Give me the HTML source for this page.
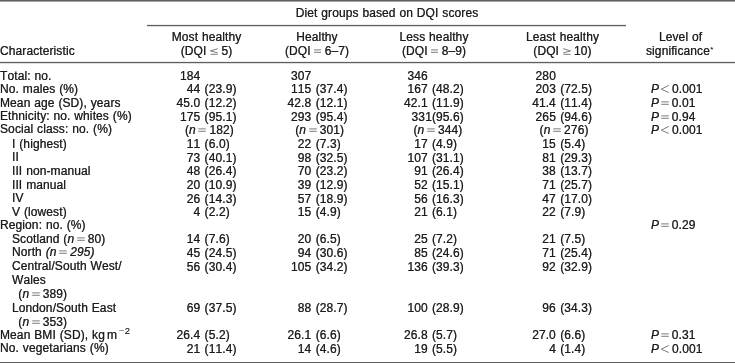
<!DOCTYPE html>
<html><head><meta charset="utf-8"><style>
html,body{margin:0;padding:0;background:#fff;}
body{width:735px;height:363px;position:relative;overflow:hidden;font-family:"Liberation Sans",sans-serif;color:#1c1c1c;}
.t{position:absolute;font-size:12px;line-height:14px;white-space:nowrap;word-spacing:0.4px;letter-spacing:0.1px;font-kerning:none;}
.m{display:inline-block;vertical-align:baseline;margin:0 3.5px;}
.m.lt{margin:0 3.3px 0 1.8px;}
.m.eqn{margin:0 3.0px 0 2.6px;}
.m.eqp{margin:0 3.1px 0 1.7px;}
.th{display:inline-block;width:2px;}
.sup{font-size:9.5px;vertical-align:0;position:relative;top:-5px;line-height:0;margin-left:1.8px;letter-spacing:0.3px;-webkit-text-stroke:0;}
.mi{color:#8c8c8c;}
.ast{font-size:8px;vertical-align:0;position:relative;top:-2.5px;line-height:0;margin-left:0.3px;-webkit-text-stroke:0;}
.rule{position:absolute;background:#5e5e5e;}
#w{position:absolute;left:0;top:0;width:735px;height:363px;will-change:transform;}
.t{-webkit-text-stroke:0.2px #1c1c1c;text-shadow:0 0 0.6px rgba(28,28,28,0.45);}
</style></head>
<body><div id="w">

<div class="rule" style="left:0;top:0;width:735px;height:1px;"></div>
<div class="rule" style="left:0;top:1px;width:735px;height:1px;background:#a8a8a8"></div>
<div class="rule" style="left:147px;top:24px;width:479px;height:1px;background:#ececec"></div>
<div class="rule" style="left:147px;top:25px;width:479px;height:1px;"></div>
<div class="rule" style="left:147px;top:26px;width:479px;height:1px;background:#dedede"></div>
<div class="rule" style="left:0;top:61px;width:735px;height:1px;background:#ececec"></div>
<div class="rule" style="left:0;top:62px;width:735px;height:1px;"></div>
<div class="rule" style="left:0;top:63px;width:735px;height:1px;background:#dedede"></div>
<div class="rule" style="left:0;top:362px;width:735px;height:1px;"></div>

<div class="t " style="left:237.0px;width:300px;top:5.6px;text-align:center;">Diet groups based on DQI scores</div>
<div class="t " style="left:0px;top:43.8px;">Characteristic</div>
<div class="t " style="left:56.5px;width:300px;top:30.3px;text-align:center;">Most healthy</div>
<div class="t " style="left:56.5px;width:300px;top:43.6px;text-align:center;">(DQI<svg class="m" width="8" height="7" viewBox="0 0 8 7"><path d="M7.8 0.7L0.4 2.9L7.8 4.9M0.6 6.3H7.6" fill="none" stroke="#7c7c7c" stroke-width="1"/></svg>5)</div>
<div class="t " style="left:167.0px;width:300px;top:30.3px;text-align:center;">Healthy</div>
<div class="t " style="left:167.0px;width:300px;top:43.6px;text-align:center;">(DQI<svg class="m" width="7" height="7" viewBox="0 0 7 7"><path d="M0 1.9H7M0 4.3H7" stroke="#7c7c7c" stroke-width="1"/></svg>6&ndash;7)</div>
<div class="t " style="left:284.0px;width:300px;top:30.3px;text-align:center;">Less healthy</div>
<div class="t " style="left:284.0px;width:300px;top:43.6px;text-align:center;">(DQI<svg class="m" width="7" height="7" viewBox="0 0 7 7"><path d="M0 1.9H7M0 4.3H7" stroke="#7c7c7c" stroke-width="1"/></svg>8&ndash;9)</div>
<div class="t " style="left:412.5px;width:300px;top:30.3px;text-align:center;">Least healthy</div>
<div class="t " style="left:412.5px;width:300px;top:43.6px;text-align:center;">(DQI<svg class="m" width="8" height="7" viewBox="0 0 8 7"><path d="M0.2 0.7L7.6 2.9L0.2 4.9M0.4 6.3H7.6" fill="none" stroke="#7c7c7c" stroke-width="1"/></svg>10)</div>
<div class="t " style="left:530.6px;width:300px;top:30.3px;text-align:center;">Level of</div>
<div class="t " style="left:646.0px;top:43.6px;">significance<sup class="ast">*</sup></div>
<div class="t " style="left:0.0px;top:69.0px;">Total: no.</div>
<div class="t " style="right:534.7px;top:69.0px;text-align:right;">184</div>
<div class="t " style="right:423.8px;top:69.0px;text-align:right;">307</div>
<div class="t " style="right:307.2px;top:69.0px;text-align:right;">346</div>
<div class="t " style="right:179.1px;top:69.0px;text-align:right;">280</div>
<div class="t " style="left:0.0px;top:82.0px;">No. males (%)</div>
<div class="t " style="right:534.7px;top:82.0px;text-align:right;">44</div>
<div class="t " style="left:204.6px;top:82.0px;">(23.9)</div>
<div class="t " style="right:423.8px;top:82.0px;text-align:right;">115</div>
<div class="t " style="left:315.7px;top:82.0px;">(37.4)</div>
<div class="t " style="right:307.2px;top:82.0px;text-align:right;">167</div>
<div class="t " style="left:431.9px;top:82.0px;">(48.2)</div>
<div class="t " style="right:179.1px;top:82.0px;text-align:right;">203</div>
<div class="t " style="left:560.2px;top:82.0px;">(72.5)</div>
<div class="t " style="left:650.9px;top:82.0px;"><i>P</i><svg class="m lt" width="8" height="8" viewBox="0 0 8 8"><path d="M7.8 0.4L0.3 4.2L7.8 7.5" fill="none" stroke="#7c7c7c" stroke-width="1"/></svg>0.001</div>
<div class="t " style="left:0.0px;top:96.0px;">Mean age (SD), years</div>
<div class="t " style="right:534.7px;top:96.0px;text-align:right;">45.0</div>
<div class="t " style="left:204.6px;top:96.0px;">(12.2)</div>
<div class="t " style="right:423.8px;top:96.0px;text-align:right;">42.8</div>
<div class="t " style="left:315.7px;top:96.0px;">(12.1)</div>
<div class="t " style="right:307.2px;top:96.0px;text-align:right;">42.1</div>
<div class="t " style="left:431.9px;top:96.0px;">(11.9)</div>
<div class="t " style="right:179.1px;top:96.0px;text-align:right;">41.4</div>
<div class="t " style="left:560.2px;top:96.0px;">(11.4)</div>
<div class="t " style="left:650.9px;top:96.0px;"><i>P</i><svg class="m eqp" width="8" height="7" viewBox="0 0 8 7"><path d="M0.2 1.9H7.8M0.2 4.3H7.8" stroke="#7c7c7c" stroke-width="1"/></svg>0.01</div>
<div class="t " style="left:0.0px;top:109.0px;">Ethnicity: no. whites (%)</div>
<div class="t " style="right:534.7px;top:110.0px;text-align:right;">175</div>
<div class="t " style="left:204.6px;top:110.0px;">(95.1)</div>
<div class="t " style="right:423.8px;top:110.0px;text-align:right;">293</div>
<div class="t " style="left:315.7px;top:110.0px;">(95.4)</div>
<div class="t " style="right:303.1px;top:110.0px;text-align:right;">331</div>
<div class="t " style="left:431.9px;top:110.0px;">(95.6)</div>
<div class="t " style="right:179.1px;top:110.0px;text-align:right;">265</div>
<div class="t " style="left:560.2px;top:110.0px;">(94.6)</div>
<div class="t " style="left:650.9px;top:110.0px;"><i>P</i><svg class="m eqp" width="8" height="7" viewBox="0 0 8 7"><path d="M0.2 1.9H7.8M0.2 4.3H7.8" stroke="#7c7c7c" stroke-width="1"/></svg>0.94</div>
<div class="t " style="left:0.0px;top:122.0px;">Social class: no. (%)</div>
<div class="t " style="left:184.9px;top:123.0px;">(<i>n</i><svg class="m eqn" width="8" height="7" viewBox="0 0 8 7"><path d="M0.2 1.9H7.8M0.2 4.3H7.8" stroke="#7c7c7c" stroke-width="1"/></svg>182)</div>
<div class="t " style="left:295.2px;top:123.0px;">(<i>n</i><svg class="m eqn" width="8" height="7" viewBox="0 0 8 7"><path d="M0.2 1.9H7.8M0.2 4.3H7.8" stroke="#7c7c7c" stroke-width="1"/></svg>301)</div>
<div class="t " style="left:413.4px;top:123.0px;">(<i>n</i><svg class="m eqn" width="8" height="7" viewBox="0 0 8 7"><path d="M0.2 1.9H7.8M0.2 4.3H7.8" stroke="#7c7c7c" stroke-width="1"/></svg>344)</div>
<div class="t " style="left:539.6px;top:123.0px;">(<i>n</i><svg class="m eqn" width="8" height="7" viewBox="0 0 8 7"><path d="M0.2 1.9H7.8M0.2 4.3H7.8" stroke="#7c7c7c" stroke-width="1"/></svg>276)</div>
<div class="t " style="left:650.9px;top:123.0px;"><i>P</i><svg class="m lt" width="8" height="8" viewBox="0 0 8 8"><path d="M7.8 0.4L0.3 4.2L7.8 7.5" fill="none" stroke="#7c7c7c" stroke-width="1"/></svg>0.001</div>
<div class="t " style="left:12.0px;top:137.0px;">I (highest)</div>
<div class="t " style="right:534.7px;top:137.0px;text-align:right;">11</div>
<div class="t " style="left:204.6px;top:137.0px;">(6.0)</div>
<div class="t " style="right:423.8px;top:137.0px;text-align:right;">22</div>
<div class="t " style="left:315.7px;top:137.0px;">(7.3)</div>
<div class="t " style="right:307.2px;top:137.0px;text-align:right;">17</div>
<div class="t " style="left:431.9px;top:137.0px;">(4.9)</div>
<div class="t " style="right:179.1px;top:137.0px;text-align:right;">15</div>
<div class="t " style="left:560.2px;top:137.0px;">(5.4)</div>
<div class="t " style="left:12.0px;top:150.0px;">II</div>
<div class="t " style="right:534.7px;top:151.0px;text-align:right;">73</div>
<div class="t " style="left:204.6px;top:151.0px;">(40.1)</div>
<div class="t " style="right:423.8px;top:151.0px;text-align:right;">98</div>
<div class="t " style="left:315.7px;top:151.0px;">(32.5)</div>
<div class="t " style="right:307.2px;top:151.0px;text-align:right;">107</div>
<div class="t " style="left:431.9px;top:151.0px;">(31.1)</div>
<div class="t " style="right:179.1px;top:151.0px;text-align:right;">81</div>
<div class="t " style="left:560.2px;top:151.0px;">(29.3)</div>
<div class="t " style="left:12.0px;top:164.0px;">III non-manual</div>
<div class="t " style="right:534.7px;top:164.0px;text-align:right;">48</div>
<div class="t " style="left:204.6px;top:164.0px;">(26.4)</div>
<div class="t " style="right:423.8px;top:164.0px;text-align:right;">70</div>
<div class="t " style="left:315.7px;top:164.0px;">(23.2)</div>
<div class="t " style="right:307.2px;top:164.0px;text-align:right;">91</div>
<div class="t " style="left:431.9px;top:164.0px;">(26.4)</div>
<div class="t " style="right:179.1px;top:164.0px;text-align:right;">38</div>
<div class="t " style="left:560.2px;top:164.0px;">(13.7)</div>
<div class="t " style="left:12.0px;top:178.0px;">III manual</div>
<div class="t " style="right:534.7px;top:178.0px;text-align:right;">20</div>
<div class="t " style="left:204.6px;top:178.0px;">(10.9)</div>
<div class="t " style="right:423.8px;top:178.0px;text-align:right;">39</div>
<div class="t " style="left:315.7px;top:178.0px;">(12.9)</div>
<div class="t " style="right:307.2px;top:178.0px;text-align:right;">52</div>
<div class="t " style="left:431.9px;top:178.0px;">(15.1)</div>
<div class="t " style="right:179.1px;top:178.0px;text-align:right;">71</div>
<div class="t " style="left:560.2px;top:178.0px;">(25.7)</div>
<div class="t " style="left:12.0px;top:191.0px;">IV</div>
<div class="t " style="right:534.7px;top:192.0px;text-align:right;">26</div>
<div class="t " style="left:204.6px;top:192.0px;">(14.3)</div>
<div class="t " style="right:423.8px;top:192.0px;text-align:right;">57</div>
<div class="t " style="left:315.7px;top:192.0px;">(18.9)</div>
<div class="t " style="right:307.2px;top:192.0px;text-align:right;">56</div>
<div class="t " style="left:431.9px;top:192.0px;">(16.3)</div>
<div class="t " style="right:179.1px;top:192.0px;text-align:right;">47</div>
<div class="t " style="left:560.2px;top:192.0px;">(17.0)</div>
<div class="t " style="left:12.0px;top:205.0px;">V (lowest)</div>
<div class="t " style="right:534.7px;top:205.0px;text-align:right;">4</div>
<div class="t " style="left:204.6px;top:205.0px;">(2.2)</div>
<div class="t " style="right:423.8px;top:205.0px;text-align:right;">15</div>
<div class="t " style="left:315.7px;top:205.0px;">(4.9)</div>
<div class="t " style="right:307.2px;top:205.0px;text-align:right;">21</div>
<div class="t " style="left:431.9px;top:205.0px;">(6.1)</div>
<div class="t " style="right:179.1px;top:205.0px;text-align:right;">22</div>
<div class="t " style="left:560.2px;top:205.0px;">(7.9)</div>
<div class="t " style="left:0.0px;top:218.0px;">Region: no. (%)</div>
<div class="t " style="left:650.9px;top:218.0px;"><i>P</i><svg class="m eqp" width="8" height="7" viewBox="0 0 8 7"><path d="M0.2 1.9H7.8M0.2 4.3H7.8" stroke="#7c7c7c" stroke-width="1"/></svg>0.29</div>
<div class="t " style="left:12.0px;top:232.0px;">Scotland (<i>n</i><svg class="m eqn" width="8" height="7" viewBox="0 0 8 7"><path d="M0.2 1.9H7.8M0.2 4.3H7.8" stroke="#7c7c7c" stroke-width="1"/></svg>80)</div>
<div class="t " style="right:534.7px;top:232.0px;text-align:right;">14</div>
<div class="t " style="left:204.6px;top:232.0px;">(7.6)</div>
<div class="t " style="right:423.8px;top:232.0px;text-align:right;">20</div>
<div class="t " style="left:315.7px;top:232.0px;">(6.5)</div>
<div class="t " style="right:307.2px;top:232.0px;text-align:right;">25</div>
<div class="t " style="left:431.9px;top:232.0px;">(7.2)</div>
<div class="t " style="right:179.1px;top:232.0px;text-align:right;">21</div>
<div class="t " style="left:560.2px;top:232.0px;">(7.5)</div>
<div class="t " style="left:12.0px;top:245.0px;">North <i>(n</i><svg class="m eqn" width="8" height="7" viewBox="0 0 8 7"><path d="M0.2 1.9H7.8M0.2 4.3H7.8" stroke="#7c7c7c" stroke-width="1"/></svg><i>295)</i></div>
<div class="t " style="right:534.7px;top:246.0px;text-align:right;">45</div>
<div class="t " style="left:204.6px;top:246.0px;">(24.5)</div>
<div class="t " style="right:423.8px;top:246.0px;text-align:right;">94</div>
<div class="t " style="left:315.7px;top:246.0px;">(30.6)</div>
<div class="t " style="right:307.2px;top:246.0px;text-align:right;">85</div>
<div class="t " style="left:431.9px;top:246.0px;">(24.6)</div>
<div class="t " style="right:179.1px;top:246.0px;text-align:right;">71</div>
<div class="t " style="left:560.2px;top:246.0px;">(25.4)</div>
<div class="t " style="left:12.0px;top:259.0px;">Central/South West/</div>
<div class="t " style="right:534.7px;top:260.0px;text-align:right;">56</div>
<div class="t " style="left:204.6px;top:260.0px;">(30.4)</div>
<div class="t " style="right:423.8px;top:260.0px;text-align:right;">105</div>
<div class="t " style="left:315.7px;top:260.0px;">(34.2)</div>
<div class="t " style="right:307.2px;top:260.0px;text-align:right;">136</div>
<div class="t " style="left:431.9px;top:260.0px;">(39.3)</div>
<div class="t " style="right:179.1px;top:260.0px;text-align:right;">92</div>
<div class="t " style="left:560.2px;top:260.0px;">(32.9)</div>
<div class="t " style="left:12.0px;top:273.0px;">Wales</div>
<div class="t " style="left:18.3px;top:287.0px;">(<i>n</i><svg class="m eqn" width="8" height="7" viewBox="0 0 8 7"><path d="M0.2 1.9H7.8M0.2 4.3H7.8" stroke="#7c7c7c" stroke-width="1"/></svg>389)</div>
<div class="t " style="left:12.0px;top:301.0px;">London/South East</div>
<div class="t " style="right:534.7px;top:301.0px;text-align:right;">69</div>
<div class="t " style="left:204.6px;top:301.0px;">(37.5)</div>
<div class="t " style="right:423.8px;top:301.0px;text-align:right;">88</div>
<div class="t " style="left:315.7px;top:301.0px;">(28.7)</div>
<div class="t " style="right:307.2px;top:301.0px;text-align:right;">100</div>
<div class="t " style="left:431.9px;top:301.0px;">(28.9)</div>
<div class="t " style="right:179.1px;top:301.0px;text-align:right;">96</div>
<div class="t " style="left:560.2px;top:301.0px;">(34.3)</div>
<div class="t " style="left:18.3px;top:315.0px;">(<i>n</i><svg class="m eqn" width="8" height="7" viewBox="0 0 8 7"><path d="M0.2 1.9H7.8M0.2 4.3H7.8" stroke="#7c7c7c" stroke-width="1"/></svg>353)</div>
<div class="t " style="left:0.0px;top:328.0px;">Mean BMI (SD), kg<span class="th"></span>m<sup class="sup"><span class="mi">&minus;</span>2</sup></div>
<div class="t " style="right:534.7px;top:328.0px;text-align:right;">26.4</div>
<div class="t " style="left:204.6px;top:328.0px;">(5.2)</div>
<div class="t " style="right:423.8px;top:328.0px;text-align:right;">26.1</div>
<div class="t " style="left:315.7px;top:328.0px;">(6.6)</div>
<div class="t " style="right:307.2px;top:328.0px;text-align:right;">26.8</div>
<div class="t " style="left:431.9px;top:328.0px;">(5.7)</div>
<div class="t " style="right:179.1px;top:328.0px;text-align:right;">27.0</div>
<div class="t " style="left:560.2px;top:328.0px;">(6.6)</div>
<div class="t " style="left:650.9px;top:328.0px;"><i>P</i><svg class="m eqp" width="8" height="7" viewBox="0 0 8 7"><path d="M0.2 1.9H7.8M0.2 4.3H7.8" stroke="#7c7c7c" stroke-width="1"/></svg>0.31</div>
<div class="t " style="left:0.0px;top:341.0px;">No. vegetarians (%)</div>
<div class="t " style="right:534.7px;top:342.0px;text-align:right;">21</div>
<div class="t " style="left:204.6px;top:342.0px;">(11.4)</div>
<div class="t " style="right:423.8px;top:342.0px;text-align:right;">14</div>
<div class="t " style="left:315.7px;top:342.0px;">(4.6)</div>
<div class="t " style="right:307.2px;top:342.0px;text-align:right;">19</div>
<div class="t " style="left:431.9px;top:342.0px;">(5.5)</div>
<div class="t " style="right:179.1px;top:342.0px;text-align:right;">4</div>
<div class="t " style="left:560.2px;top:342.0px;">(1.4)</div>
<div class="t " style="left:650.9px;top:342.0px;"><i>P</i><svg class="m lt" width="8" height="8" viewBox="0 0 8 8"><path d="M7.8 0.4L0.3 4.2L7.8 7.5" fill="none" stroke="#7c7c7c" stroke-width="1"/></svg>0.001</div>
</div></body></html>
